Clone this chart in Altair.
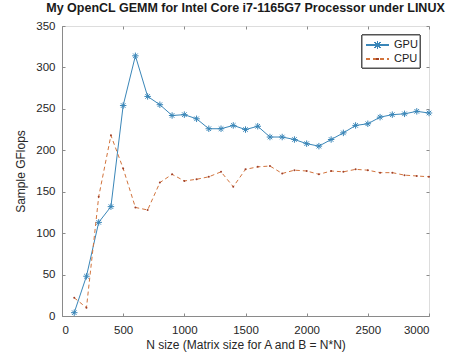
import altair as alt
import pandas as pd

N = [100, 200, 300, 400, 500, 600, 700, 800, 900, 1000,
     1100, 1200, 1300, 1400, 1500, 1600, 1700, 1800, 1900, 2000,
     2100, 2200, 2300, 2400, 2500, 2600, 2700, 2800, 2900, 3000]
gpu = [4, 48, 113, 132, 254, 314, 265, 255, 242, 243,
       238, 226, 226, 230, 225, 229, 216, 216, 213, 208,
       205, 213, 221, 230, 232, 240, 243, 244, 247, 245]
cpu = [22, 10, 144, 218, 178, 131, 128, 161, 171, 163,
       165, 168, 174, 156, 177, 180, 181, 172, 176, 175,
       171, 175, 174, 177, 176, 173, 173, 170, 169, 168]
x_ticks = [0, 500, 1000, 1500, 2000, 2500, 3000]
y_ticks = [0, 50, 100, 150, 200, 250, 300, 350]

GPU_C = "#3a86b8"
CPU_C = "#d2743d"
AX_C = "#8a8a8a"
FONT = "Liberation Sans"
W, H = 367, 290

gdf = pd.DataFrame({"N": N, "v": gpu})
cdf = pd.DataFrame({"N": N, "v": cpu})

xs = alt.Scale(domain=[0, 3000], nice=False, zero=False)
ys = alt.Scale(domain=[0, 350], nice=False)

ast = "M-1,0L1,0M0,-1L0,1M-0.7,-0.7L0.7,0.7M-0.7,0.7L0.7,-0.7"

x_main = alt.X("N:Q", scale=xs, axis=alt.Axis(
    values=x_ticks, title="N size (Matrix size for A and B = N*N)",
    tickSize=0, labelPadding=8, domainColor=AX_C, grid=False, format="d",
    labelColor="#262626", titleColor="#262626", labelFontSize=11.5,
    titleFontSize=12, titleFontWeight="normal", titlePadding=4,
    labelFont=FONT, titleFont=FONT))
y_main = alt.Y("v:Q", scale=ys, axis=alt.Axis(
    values=y_ticks, title="Sample GFlops", tickSize=0, labelPadding=7,
    domainColor=AX_C, grid=False, labelColor="#262626", titleColor="#262626",
    labelFontSize=11.5, titleFontSize=12, titleFontWeight="normal",
    titlePadding=8, labelFont=FONT, titleFont=FONT))

xn = alt.X("N:Q", scale=xs, axis=None)
yn = alt.Y("v:Q", scale=ys, axis=None)

gline = alt.Chart(gdf).mark_line(color=GPU_C, strokeWidth=1).encode(x=x_main, y=y_main)
gpts = alt.Chart(gdf).mark_point(shape=ast, size=42, filled=False, color=GPU_C,
                                 strokeWidth=1, opacity=1).encode(x=xn, y=yn)
cline = alt.Chart(cdf).mark_line(color=CPU_C, strokeWidth=1, strokeDash=[4, 3]).encode(x=xn, y=yn)
cpts = alt.Chart(cdf).mark_point(shape="circle", size=4, filled=True, color="#a0402a",
                                 opacity=1).encode(x=xn, y=yn)

def tick_layer(orient_x, orient_y):
    return alt.Chart(gdf).mark_point(opacity=0).encode(
        x=alt.X("N:Q", scale=xs, axis=alt.Axis(
            orient=orient_x, values=x_ticks, labels=False, title=None,
            domain=False, tickSize=3, tickColor=AX_C, grid=False, offset=-H)),
        y=alt.Y("v:Q", scale=ys, axis=alt.Axis(
            orient=orient_y, values=y_ticks, labels=False, title=None,
            domain=False, tickSize=3, tickColor=AX_C, grid=False, offset=-W)),
    )

t1 = tick_layer("top", "right")
t2 = tick_layer("bottom", "left")

# legend (decoration)
leg_box = alt.Chart(gdf).mark_rect(fill="white", stroke="#555555", strokeWidth=1).encode(
    x=alt.value(300), x2=alt.value(358), y=alt.value(9), y2=alt.value(42))
leg_g = alt.Chart(gdf).mark_rule(color=GPU_C, strokeWidth=1).encode(
    x=alt.value(304), x2=alt.value(327), y=alt.value(19))
leg_gp = alt.Chart(gdf).mark_point(shape=ast, size=42, filled=False, color=GPU_C, strokeWidth=1).encode(
    x=alt.value(315.5), y=alt.value(19))
leg_c = alt.Chart(gdf).mark_rule(color=CPU_C, strokeWidth=1, strokeDash=[4, 3]).encode(
    x=alt.value(304), x2=alt.value(327), y=alt.value(33))
leg_cp = alt.Chart(gdf).mark_point(shape="circle", size=4, filled=True, color="#a0402a").encode(
    x=alt.value(315.5), y=alt.value(33))
leg_t = alt.Chart(pd.DataFrame({"t": ["GPU", "CPU"], "yy": [19, 33]})).mark_text(
    align="left", baseline="middle", font=FONT, fontSize=11, color="#1a1a1a").encode(
    x=alt.value(332), y=alt.Y("yy:Q", scale=None, axis=None), text="t:N")

chart = alt.layer(
    t1, t2, gline, gpts, cline, cpts, leg_box, leg_g, leg_gp, leg_c, leg_cp, leg_t
).resolve_axis(x="independent", y="independent").properties(
    width=W, height=H,
    title=alt.Title("My OpenCL GEMM for Intel Core i7-1165G7 Processor under LINUX",
                    font=FONT, fontSize=12.5, fontWeight="bold", color="#1a1a1a",
                    anchor="middle", offset=6),
    padding={"left": 62, "top": 26, "right": 45, "bottom": 39},
    autosize=alt.AutoSizeParams(type="none"),
).configure_view(stroke=AX_C, strokeWidth=1).configure(background="white")

chart.save("out.html", embed_options={"renderer": "svg", "actions": False})
